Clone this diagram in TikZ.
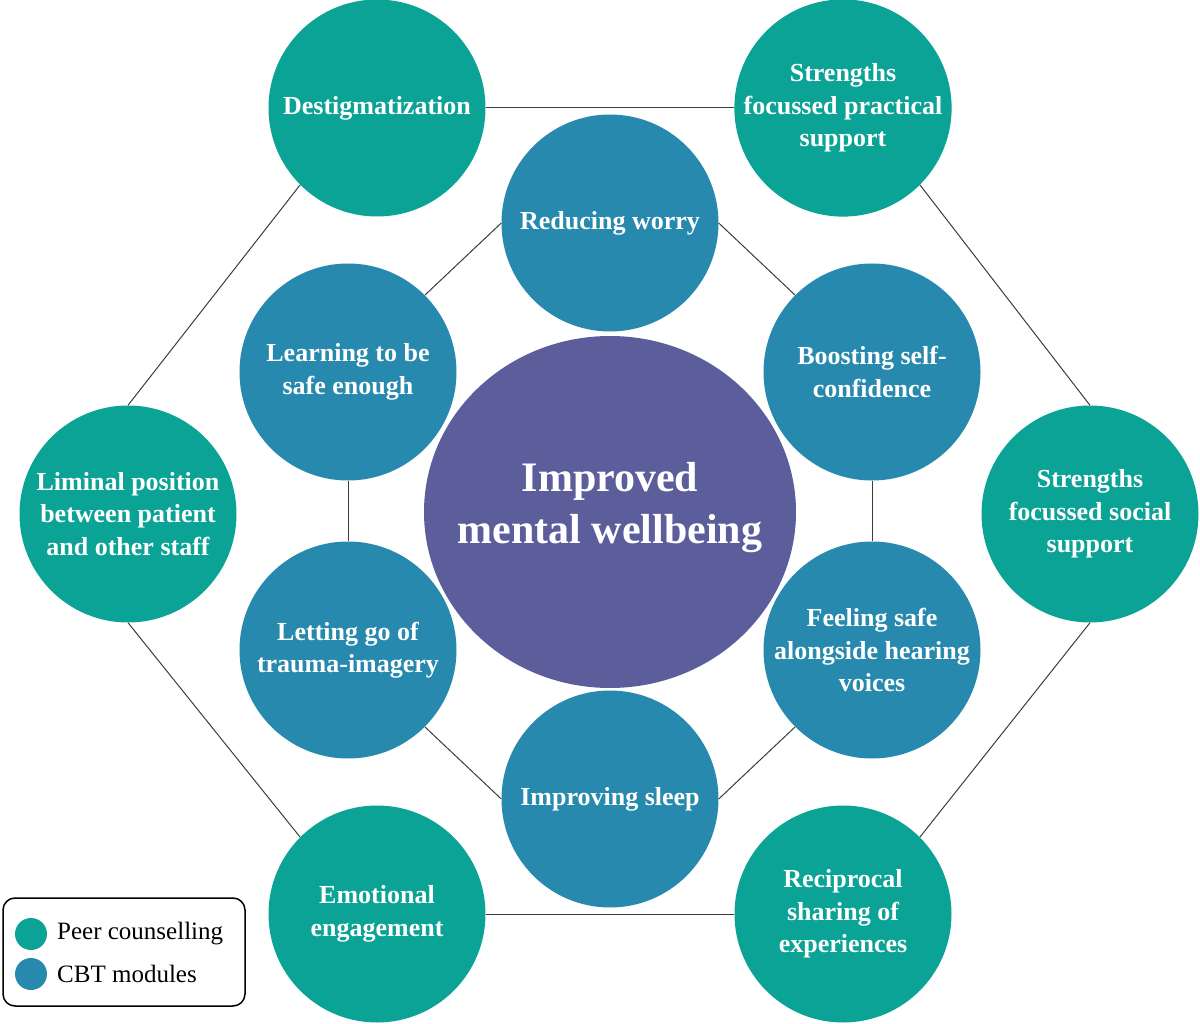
\documentclass[tikz,border=0pt]{standalone}
\usepackage{fontspec}
\setmainfont{Liberation Serif}
\usepackage{xcolor}
\definecolor{peerteal}{HTML}{0BA396}
\definecolor{cbtblue}{HTML}{2689AD}
\definecolor{centreviolet}{HTML}{5B5E9A}
\definecolor{liengris}{HTML}{3C3C3C}
\usepackage{tikz}

\begin{document}
\begin{tikzpicture}[x=1pt,y=-1pt,
  peer/.style={circle,fill=peerteal,text=white,minimum size=217pt,inner sep=0pt,font=\fontsize{26}{32.5}\selectfont\bfseries,align=center},
  cbt/.style={circle,fill=cbtblue,text=white,minimum size=217pt,inner sep=0pt,font=\fontsize{26}{32.5}\selectfont\bfseries,align=center},
  lien/.style={draw=liengris,line width=1pt},
  pastille/.style={circle,minimum size=32pt,inner sep=0pt}
]
\useasboundingbox (0,0) rectangle (1200,1024);
% centre
\fill[centreviolet] (610,512) ellipse (186 and 176);
\node[text=white,font=\fontsize{42}{52}\selectfont\bfseries,align=center] (centre) at (610,508) {Improved\\mental wellbeing};
% peer counselling
\node[peer] (destig) at (377,108) {Destigmatization};
\node[peer] (practical) at (843,108) {Strengths\\focussed practical\\support};
\node[peer] (social) at (1090,514) {Strengths\\focussed social\\support};
\node[peer] (recip) at (843,914) {Reciprocal\\sharing of\\experiences};
\node[peer] (emot) at (377,914) {Emotional\\engagement};
\node[peer] (liminal) at (128,514) {Liminal position\\between patient\\and other staff};
% modules CBT
\node[cbt] (worry) at (610,223) {Reducing worry};
\node[cbt] (confid) at (872,372) {Boosting self-\\confidence};
\node[cbt] (voices) at (872,650) {Feeling safe\\alongside hearing\\voices};
\node[cbt] (sleep) at (610,799) {Improving sleep};
\node[cbt] (trauma) at (348,650) {Letting go of\\trauma-imagery};
\node[cbt] (safe) at (348,372) {Learning to be\\safe enough};
% hexagone exterieur
\draw[lien] (destig.east)--(practical.west);
\draw[lien] (practical.south east)--(social.north);
\draw[lien] (social.south)--(recip.north east);
\draw[lien] (recip.west)--(emot.east);
\draw[lien] (emot.north west)--(liminal.south);
\draw[lien] (liminal.north)--(destig.south west);
% hexagone interieur
\draw[lien] (worry.east)--(confid.north west);
\draw[lien] (confid.south)--(voices.north);
\draw[lien] (voices.south west)--(sleep.east);
\draw[lien] (sleep.west)--(trauma.south east);
\draw[lien] (trauma.north)--(safe.south);
\draw[lien] (safe.north east)--(worry.west);
% legende
\node[draw=black,line width=1.5pt,rounded corners=12pt,minimum width=242pt,minimum height=108pt,inner sep=0pt] (legende) at (124,952) {};
\node[pastille,fill=peerteal] (dpeer) at (31,934) {};
\node[pastille,fill=cbtblue] (dcbt) at (31,974) {};
\node[anchor=west,inner sep=0pt,font=\fontsize{25}{30}\selectfont] (tpeer) at (57,934) {Peer counselling};
\node[anchor=west,inner sep=0pt,font=\fontsize{25}{30}\selectfont] (tcbt) at (57,974) {CBT modules};
\end{tikzpicture}
\end{document}
